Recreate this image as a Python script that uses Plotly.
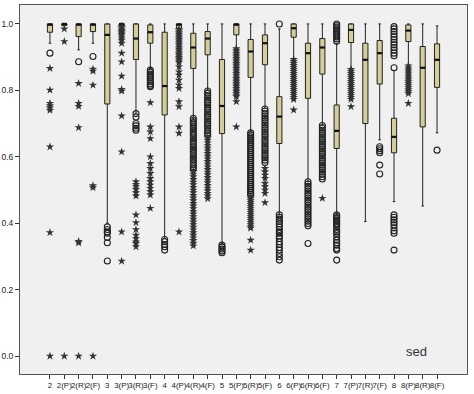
import plotly.graph_objects as go

categories = ["2", "2(P)", "2(R)", "2(F)", "3", "3(P)", "3(R)", "3(F)",
              "4", "4(P)", "4(R)", "4(F)", "5", "5(P)", "5(R)", "5(F)",
              "6", "6(P)", "6(R)", "6(F)", "7", "7(P)", "7(R)", "7(F)",
              "8", "8(P)", "8(R)", "8(F)"]

q1 = [0.975, 0.995, 0.962, 0.977, 0.759, 0.997, 0.893, 0.942,
      0.726, 0.987, 0.866, 0.907, 0.670, 0.967, 0.839, 0.877,
      0.640, 0.960, 0.776, 0.849, 0.625, 0.944, 0.700, 0.819,
      0.612, 0.947, 0.690, 0.809]
median = [0.998, 1.0, 0.998, 0.998, 0.967, 1.0, 0.956, 0.975,
          0.813, 0.998, 0.929, 0.956, 0.753, 0.998, 0.917, 0.942,
          0.721, 0.987, 0.912, 0.929, 0.678, 0.982, 0.892, 0.912,
          0.660, 0.980, 0.868, 0.892]
q3 = [1.0, 1.0, 1.0, 1.0, 1.0, 1.0, 1.0, 0.997,
      0.975, 1.0, 0.972, 0.977, 0.893, 1.0, 0.953, 0.967,
      0.781, 1.0, 0.942, 0.956, 0.756, 1.0, 0.942, 0.950,
      0.716, 0.997, 0.932, 0.940]
whisker_low = [0.942, 0.995, 0.922, 0.942, 0.400, 0.997, 0.731, 0.866,
               0.354, 0.987, 0.716, 0.801, 0.339, 0.926, 0.675, 0.746,
               0.425, 0.896, 0.525, 0.696, 0.425, 0.866, 0.405, 0.651,
               0.465, 0.877, 0.452, 0.672]
whisker_high = [1.0, 1.0, 1.0, 1.0, 1.0, 1.0, 1.0, 1.0,
                1.0, 1.0, 1.0, 1.0, 1.0, 1.0, 1.0, 1.0,
                0.985, 1.0, 1.0, 1.0, 0.940, 1.0, 1.0, 1.0,
                0.860, 1.0, 1.0, 0.994]

# open-circle outliers, one list per category
circle_outliers = [
    [0.912],
    [],
    [0.886],
    [0.902],
    [0.389, 0.381, 0.374, 0.370, 0.357, 0.341, 0.286],
    [],
    [0.730, 0.720, 0.700, 0.693, 0.686, 0.680],
    [0.861, 0.855, 0.849, 0.843, 0.838, 0.832, 0.826, 0.820, 0.815, 0.811],
    [0.351, 0.344, 0.336, 0.329, 0.319],
    [],
    [0.716, 0.710, 0.703, 0.697, 0.690, 0.684, 0.677, 0.670, 0.664, 0.657, 0.650, 0.644,
     0.637, 0.630, 0.623, 0.617, 0.610, 0.603, 0.596, 0.590, 0.583, 0.576, 0.570, 0.563],
    [0.798, 0.791, 0.784, 0.777, 0.770, 0.763, 0.756, 0.749, 0.742, 0.735, 0.728, 0.721,
     0.714, 0.707, 0.700, 0.693, 0.686, 0.679, 0.672, 0.665],
    [0.334, 0.328, 0.322, 0.316, 0.311],
    [],
    [0.672, 0.666, 0.660, 0.654, 0.648, 0.642, 0.636, 0.630, 0.624, 0.618, 0.612, 0.606,
     0.600, 0.594, 0.588, 0.582, 0.576, 0.570, 0.564, 0.558, 0.552, 0.546, 0.540, 0.534,
     0.528, 0.522, 0.516, 0.510, 0.504, 0.498, 0.492, 0.486],
    [0.744, 0.737, 0.730, 0.723, 0.716, 0.709, 0.702, 0.695, 0.688, 0.681, 0.674, 0.667,
     0.660, 0.653, 0.646, 0.639, 0.632, 0.625, 0.618, 0.611, 0.604, 0.597, 0.590, 0.583],
    [1.0, 0.425, 0.418, 0.412, 0.405, 0.398, 0.389, 0.381, 0.374, 0.370, 0.361, 0.354,
     0.344, 0.336, 0.327, 0.319, 0.309, 0.299, 0.289],
    [],
    [0.525, 0.518, 0.511, 0.504, 0.497, 0.490, 0.483, 0.476, 0.469, 0.462, 0.455, 0.448,
     0.441, 0.434, 0.427, 0.420, 0.413, 0.406, 0.399, 0.392, 0.339],
    [0.694, 0.687, 0.680, 0.673, 0.666, 0.659, 0.652, 0.645, 0.638, 0.631, 0.624, 0.617,
     0.610, 0.603, 0.596, 0.589, 0.582, 0.575, 0.568, 0.561, 0.554, 0.547, 0.540, 0.533],
    [1.0, 0.995, 0.990, 0.985, 0.979, 0.973, 0.967, 0.961, 0.955, 0.948,
     0.425, 0.420, 0.415, 0.410, 0.405, 0.400, 0.395, 0.390, 0.381, 0.374, 0.369, 0.359,
     0.349, 0.341, 0.334, 0.324, 0.319, 0.289],
    [],
    [],
    [0.630, 0.624, 0.618, 0.612, 0.575, 0.548],
    [0.992, 0.985, 0.977, 0.969, 0.961, 0.953, 0.945, 0.937, 0.929, 0.921, 0.912, 0.904,
     0.868, 0.425, 0.418, 0.410, 0.402, 0.395, 0.386, 0.377, 0.370, 0.319],
    [],
    [],
    [0.620],
]

# star (extreme) outliers, one list per category
star_outliers = [
    [0.866, 0.801, 0.761, 0.754, 0.747, 0.740, 0.630, 0.372, 0.0],
    [0.985, 0.947, 0.0],
    [0.821, 0.761, 0.752, 0.688, 0.345, 0.341, 0.0],
    [0.864, 0.858, 0.816, 0.513, 0.507, 0.0],
    [],
    [0.993, 0.989, 0.985, 0.981, 0.977, 0.973, 0.969, 0.965, 0.958, 0.951,
     0.942, 0.912, 0.886, 0.843, 0.803, 0.798, 0.723, 0.615, 0.374, 0.286],
    [0.525, 0.517, 0.510, 0.502, 0.492, 0.482, 0.425, 0.402, 0.381, 0.364, 0.354, 0.344,
     0.339, 0.329],
    [0.763, 0.690, 0.675, 0.655, 0.600, 0.580, 0.565, 0.550, 0.535, 0.525, 0.515, 0.505,
     0.495, 0.485, 0.445],
    [],
    [0.984, 0.979, 0.974, 0.969, 0.964, 0.959, 0.954, 0.949, 0.944, 0.939, 0.934, 0.929,
     0.924, 0.919, 0.914, 0.909, 0.904, 0.899, 0.894, 0.889, 0.884, 0.871, 0.856, 0.846,
     0.831, 0.816, 0.806, 0.766, 0.751, 0.690, 0.671, 0.374],
    [0.556, 0.548, 0.540, 0.532, 0.524, 0.516, 0.508, 0.500, 0.492, 0.484, 0.476, 0.468,
     0.460, 0.452, 0.444, 0.436, 0.428, 0.420, 0.412, 0.404, 0.396, 0.388, 0.380, 0.372,
     0.364, 0.356, 0.348, 0.340, 0.332],
    [0.658, 0.650, 0.642, 0.634, 0.626, 0.618, 0.610, 0.602, 0.594, 0.586, 0.578, 0.570,
     0.562, 0.554, 0.546, 0.538, 0.530, 0.522, 0.514, 0.506, 0.498, 0.490, 0.482, 0.474],
    [],
    [0.926, 0.921, 0.916, 0.911, 0.906, 0.901, 0.896, 0.891, 0.886, 0.881, 0.876, 0.871,
     0.866, 0.861, 0.856, 0.851, 0.846, 0.841, 0.836, 0.831, 0.826, 0.821, 0.816, 0.811,
     0.806, 0.801, 0.796, 0.791, 0.786, 0.781, 0.766, 0.690],
    [0.480, 0.474, 0.468, 0.462, 0.456, 0.450, 0.444, 0.438, 0.432, 0.426, 0.420, 0.414,
     0.408, 0.402, 0.396, 0.390, 0.385, 0.349, 0.319],
    [0.565, 0.555, 0.545, 0.535, 0.520, 0.510, 0.500, 0.490, 0.462],
    [],
    [0.893, 0.887, 0.881, 0.875, 0.869, 0.863, 0.857, 0.851, 0.845, 0.839, 0.833, 0.827,
     0.821, 0.815, 0.809, 0.803, 0.797, 0.791, 0.785, 0.779, 0.773, 0.741],
    [],
    [0.475],
    [],
    [0.863, 0.857, 0.851, 0.845, 0.839, 0.833, 0.827, 0.821, 0.815, 0.809, 0.803, 0.797,
     0.791, 0.785, 0.779, 0.773, 0.751],
    [],
    [],
    [],
    [0.874, 0.868, 0.862, 0.856, 0.850, 0.844, 0.838, 0.832, 0.826, 0.820, 0.814, 0.808,
     0.802, 0.796, 0.790, 0.761],
    [],
    [],
]

y_ticks = [0.0, 0.2, 0.4, 0.6, 0.8, 1.0]
y_tick_labels = ["0.0", "0.2", "0.4", "0.6", "0.8", "1.0"]
corner_label = "sed"

positions = list(range(len(categories)))
BOX_W = 0.36
FONT = "Liberation Sans, Arial, sans-serif"

fig = go.Figure()

fig.add_trace(go.Box(
    x=positions, q1=q1, median=median, q3=q3,
    lowerfence=whisker_low, upperfence=whisker_high,
    width=BOX_W, whiskerwidth=0.5,
    fillcolor="#D3CE97", line=dict(color="#222222", width=1),
    boxpoints=False, showlegend=False, hoverinfo="skip",
))

# thick median lines
mx, my = [], []
for p, m in zip(positions, median):
    mx += [p - BOX_W / 2, p + BOX_W / 2, None]
    my += [m, m, None]
fig.add_trace(go.Scatter(x=mx, y=my, mode="lines",
                         line=dict(color="#111111", width=2.2),
                         showlegend=False, hoverinfo="skip"))

cx, cy = [], []
for p, vals in zip(positions, circle_outliers):
    cx += [p] * len(vals)
    cy += vals
fig.add_trace(go.Scatter(x=cx, y=cy, mode="markers",
                         marker=dict(symbol="circle-open", size=6,
                                     color="#222222", line=dict(width=1.1)),
                         showlegend=False, hoverinfo="skip"))

sx, sy = [], []
for p, vals in zip(positions, star_outliers):
    sx += [p] * len(vals)
    sy += vals
fig.add_trace(go.Scatter(x=sx, y=sy, mode="markers",
                         marker=dict(symbol="star", size=6.3, color="#333333",
                                     line=dict(width=0)),
                         showlegend=False, hoverinfo="skip"))

fig.add_annotation(text=corner_label, xref="paper", yref="paper",
                   x=0.915, y=0.035, showarrow=False,
                   font=dict(family=FONT, size=13, color="#333333"))

fig.update_layout(
    width=474, height=394,
    margin=dict(l=20, r=7, t=5, b=20, autoexpand=False),
    paper_bgcolor="white",
    plot_bgcolor="#F0F0F0",
    font=dict(family=FONT, size=9, color="#222222"),
    xaxis=dict(range=[-2.09, 29.09], tickmode="array", tickvals=positions,
               ticktext=categories, tickangle=0, ticks="outside", ticklen=4,
               tickcolor="#333333", showgrid=False, zeroline=False,
               showline=True, linecolor="#555555", mirror=True,
               automargin=False,
               tickfont=dict(size=7.9, family=FONT)),
    yaxis=dict(range=[-0.054, 1.057], tickmode="array", tickvals=y_ticks,
               ticktext=y_tick_labels, ticks="outside", ticklen=4,
               tickcolor="#333333", showgrid=False, zeroline=False,
               showline=True, linecolor="#555555", mirror=True,
               automargin=False,
               tickfont=dict(size=8.5, family=FONT)),
)

fig.write_html("out.html",
               config={"displayModeBar": False, "staticPlot": True},
               post_script="document.body.style.margin='0';"
                           "document.body.style.overflow='hidden';")
